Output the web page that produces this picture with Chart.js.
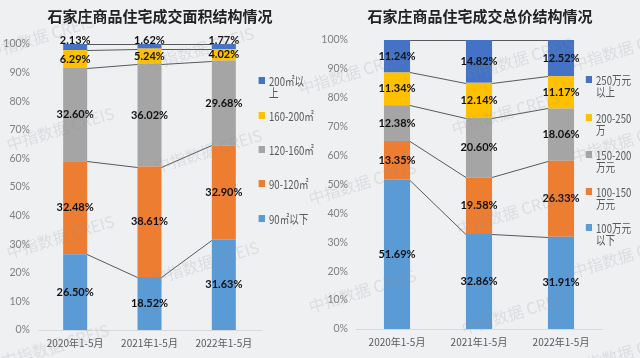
<!DOCTYPE html>
<html>
<head>
<meta charset="utf-8">
<script src="https://cdn.jsdelivr.net/npm/chart.js@4"></script>
<style>
  html, body { margin: 0; padding: 0; }
  body { width: 640px; height: 358px; background: #eff0f2; position: relative; overflow: hidden; }
  .title { position: absolute; top: 5px; width: 320px; text-align: center; font: bold 15px "Noto Sans CJK SC"; color: #222; z-index: 3; }
  canvas { position: absolute; top: 0; z-index: 2; }
  .legend { position: absolute; font: 12px "Noto Sans CJK SC", sans-serif; color: #595959; line-height: 12px; z-index: 3; transform: scaleX(0.8); transform-origin: 0 0; }
  .legend .item { position: absolute; white-space: nowrap; }
  .legend .box { position: absolute; left: -13px; top: 2px; width: 8px; height: 7px; }
  .wm { position: absolute; font: 16px "Noto Sans CJK SC"; color: rgba(140, 145, 155, 0.2); transform: translate(-50%, -50%) rotate(-17deg); white-space: nowrap; z-index: 4; }
</style>
</head>
<body>
<div class="title" style="left:0">石家庄商品住宅成交面积结构情况</div>
<div class="title" style="left:320px">石家庄商品住宅成交总价结构情况</div>
<canvas id="chart-area" width="320" height="358" style="left:0"></canvas>
<canvas id="chart-price" width="320" height="358" style="left:320px"></canvas>
<div class="legend" id="legend-area" style="left:269px; top:0"></div>
<div class="legend" id="legend-price" style="left:596px; top:0"></div>
<script>
// categories
const years = ["2020年1-5月", "2021年1-5月", "2022年1-5月"];
const yTicks = [0, 10, 20, 30, 40, 50, 60, 70, 80, 90, 100];

// 面积结构 (bottom -> top)
const areaNames = ["90㎡以下", "90-120㎡", "120-160㎡", "160-200㎡", "200㎡以上"];
const area90 = [26.50, 18.52, 31.63];
const area90to120 = [32.48, 38.61, 32.90];
const area120to160 = [32.60, 36.02, 29.68];
const area160to200 = [6.29, 5.24, 4.02];
const area200 = [2.13, 1.62, 1.77];

// 总价结构 (bottom -> top)
const priceNames = ["100万元以下", "100-150万元", "150-200万元", "200-250万", "250万元以上"];
const price100 = [51.69, 32.86, 31.91];
const price100to150 = [13.35, 19.58, 26.33];
const price150to200 = [12.38, 20.60, 18.06];
const price200to250 = [11.34, 12.14, 11.17];
const price250 = [11.24, 14.82, 12.52];

const colors = ["#5b9bd5", "#ed7d31", "#a5a5a5", "#ffc000", "#4472c4"];

// series lines + value labels, like excel
const seriesLinesAndLabels = {
    id: "seriesLines",
    afterDatasetsDraw(chart) {
        const ctx = chart.ctx;
        ctx.save();
        ctx.strokeStyle = "#595959";
        ctx.lineWidth = 1;
        chart.data.datasets.forEach((ds, d) => {
            const bars = chart.getDatasetMeta(d).data;
            for (let i = 0; i < bars.length - 1; i++) {
                const a = bars[i], b = bars[i + 1];
                ctx.beginPath();
                ctx.moveTo(a.x + a.width / 2, Math.round(a.y) + 0.5);
                ctx.lineTo(b.x - b.width / 2, Math.round(b.y) + 0.5);
                ctx.stroke();
            }
        });
        ctx.font = "bold 11px Lato";
        ctx.fillStyle = "#111";
        ctx.textAlign = "center";
        ctx.textBaseline = "middle";
        chart.data.datasets.forEach((ds, d) => {
            chart.getDatasetMeta(d).data.forEach((bar, i) => {
                const h = bar.base - bar.y;
                const y = h < 10 ? bar.y - 4 : (bar.y + bar.base) / 2;
                ctx.fillText(ds.data[i].toFixed(2) + "%", bar.x, y);
            });
        });
        ctx.restore();
    }
};

function makeChart(id, series, names, area, barPct) {
    const datasets = series.map((data, i) => ({
        label: names[i],
        data: data,
        backgroundColor: colors[i],
        barPercentage: barPct,
        categoryPercentage: 1,
    }));
    new Chart(document.getElementById(id), {
        type: "bar",
        data: { labels: years, datasets: datasets },
        options: {
            responsive: false,
            animation: false,
            devicePixelRatio: 1,
            layout: { padding: { top: area.top, right: area.right, bottom: 0, left: 0 } },
            plugins: { legend: { display: false }, tooltip: { enabled: false } },
            scales: {
                x: {
                    stacked: true,
                    grid: { display: false, drawTicks: false },
                    border: { display: true, color: "#d9d9d9" },
                    ticks: { font: { family: "Noto Sans CJK SC", size: 10 }, color: "#595959", padding: 7, maxRotation: 0 },
                    afterFit(scale) { scale.height = 358 - area.bottom; },
                },
                y: {
                    stacked: true,
                    min: 0,
                    max: 100,
                    afterBuildTicks(scale) { scale.ticks = yTicks.map(v => ({ value: v })); },
                    grid: { display: false, drawTicks: false },
                    border: { display: false },
                    ticks: { font: { family: "Lato", size: 10.5 }, color: "#7f7f7f", padding: 8, callback: v => v + "%" },
                    afterFit(scale) { scale.width = area.left; },
                },
            },
        },
        plugins: [seriesLinesAndLabels],
    });
}

makeChart("chart-area", [area90, area90to120, area120to160, area160to200, area200], areaNames,
    { left: 38, right: 59, top: 44, bottom: 330 }, 0.323);
makeChart("chart-price", [price100, price100to150, price150to200, price200to250, price250], priceNames,
    { left: 36, right: 38, top: 40, bottom: 329 }, 0.318);

// legends (top item first, as in the picture)
function makeLegend(id, lines, tops) {
    const box = document.getElementById(id);
    for (let i = 4; i >= 0; i--) {
        const item = document.createElement("div");
        item.className = "item";
        item.style.top = tops[4 - i] + "px";
        item.innerHTML = '<span class="box" style="background:' + colors[i] + '"></span>' + lines[i].join("<br>");
        box.appendChild(item);
    }
}
makeLegend("legend-area", [["90㎡以下"], ["90-120㎡"], ["120-160㎡"], ["160-200㎡"], ["200㎡以", "上"]], [75, 110, 144, 178, 213]);
makeLegend("legend-price", [["100万元", "以下"], ["100-150", "万元"], ["150-200", "万元"], ["200-250", "万"], ["250万元", "以上"]], [74, 112, 149, 186, 222]);

// watermark
const marks = [[40, 36], [200, 48], [352, 72], [520, 58], [625, 48], [60, 128], [208, 150], [362, 182], [505, 112], [625, 140],
    [60, 236], [205, 262], [362, 290], [510, 212], [625, 255], [55, 345], [515, 312], [625, 352]];
marks.forEach(p => {
    const w = document.createElement("div");
    w.className = "wm";
    w.style.left = p[0] + "px";
    w.style.top = p[1] + "px";
    w.textContent = "中指数据 CREIS";
    document.body.appendChild(w);
});
</script>
</body>
</html>
